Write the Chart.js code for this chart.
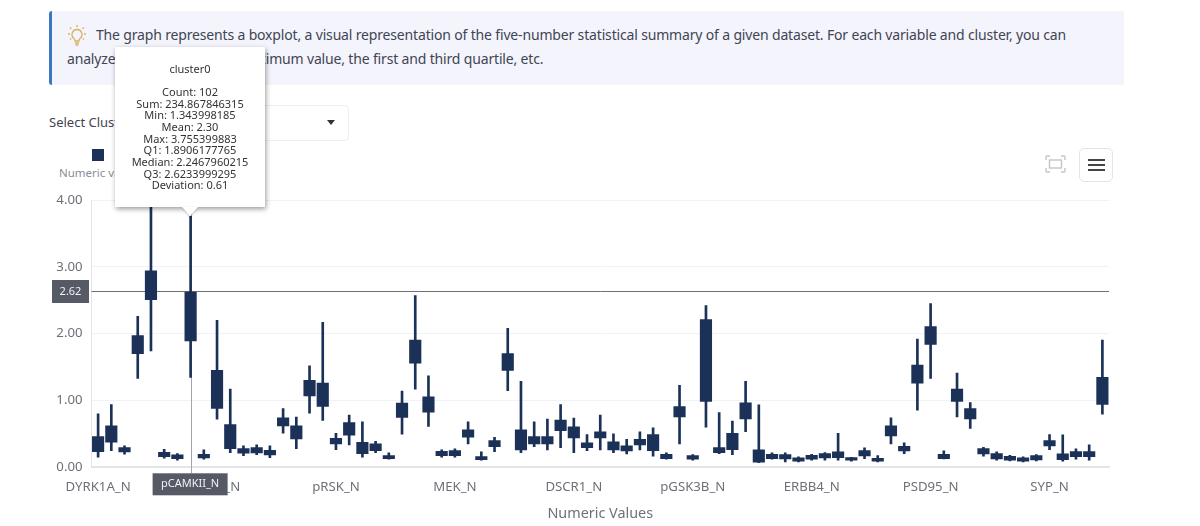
<!DOCTYPE html>
<html>
<head>
<meta charset="utf-8">
<title>Cluster boxplot</title>
<script src="https://cdn.jsdelivr.net/npm/chart.js@4"></script>
<style>
  html, body { margin: 0; padding: 0; background: #fff; width: 1200px; height: 526px; overflow: hidden; font-family: "Noto Sans", sans-serif; color: #3c4250; }
  .abs { position: absolute; }
  #banner { left: 49px; top: 11px; width: 1072px; height: 74px; background: #f4f4fd; border-left: 3px solid #3a78c2; border-radius: 3px; }
  #line1, #line2 { font-size: 14px; letter-spacing: -0.163px; line-height: 24px; white-space: nowrap; color: #3f4552; }
  #line1 { left: 96px; top: 23px; }
  #line2 { left: 67px; top: 47px; }
  #bulb { left: 67px; top: 24px; }
  #selectLabel { left: 49px; top: 113px; font-size: 13px; line-height: 18px; color: #3f4552; white-space: nowrap; }
  #selectBox { left: 122px; top: 105px; width: 225px; height: 34px; border: 1px solid #eeeff3; border-radius: 4px; }
  #selectValue { left: 136px; top: 113px; font-size: 13px; line-height: 18px; }
  #selectArrow { left: 327px; top: 120px; width: 0; height: 0; border-left: 4.5px solid transparent; border-right: 4.5px solid transparent; border-top: 5px solid #333; }
  #legendMark { left: 92px; top: 149px; width: 12px; height: 12px; background: #1b3157; }
  #legendText { left: 59px; top: 165px; font-size: 11.5px; line-height: 16px; color: #8a8d96; white-space: nowrap; }
  #chartBox { left: 49px; top: 190px; width: 1075px; height: 336px; }
  #expandIcon { left: 1045px; top: 155px; }
  #menuBtn { left: 1079px; top: 148px; width: 32px; height: 32px; border: 1px solid #e3e4e8; border-radius: 5px; background: #fff; }
  #menuBtn i { position: absolute; left: 8px; width: 17px; height: 2px; background: #444; }
  #tip { left: 115px; top: 47px; width: 150px; height: 160px; background: #fff; box-shadow: 1px 2px 5px rgba(0,0,0,.4); font-size: 11px; line-height: 11.65px; text-align: center; color: #333; }
  #tipTitle { margin-top: 16px; line-height: 12px; }
  #tipBody { margin-top: 11px; }
  #tipArrow { left: 182px; top: 207px; width: 0; height: 0; border-left: 8px solid transparent; border-right: 8px solid transparent; border-top: 9px solid #fff; filter: drop-shadow(0 1px 1px rgba(0,0,0,.25)); }
</style>
</head>
<body>
<div id="banner" class="abs"></div>
<svg id="bulb" class="abs" width="20" height="24" viewBox="0 0 20 24" fill="none" stroke="#d8b15f" stroke-width="1.3">
  <path d="M10 5.5a5 5 0 0 0-3 9c.8.7 1 1.4 1 2.5h4c0-1.1.2-1.8 1-2.5a5 5 0 0 0-3-9z"/>
  <path d="M8 19h4M8.5 21h3M10 1v2M3 3.5l1.4 1.4M17 3.5l-1.4 1.4M1 10h2M17 10h2M3 15.5l1.2-1M17 15.5l-1.2-1"/>
</svg>
<div id="line1" class="abs">The graph represents a boxplot, a visual representation of the five-number statistical summary of a given dataset. For each variable and cluster, you can</div>
<div id="line2" class="abs">analyze the minimum, the maximum value, the first and third quartile, etc.</div>
<div id="selectLabel" class="abs">Select Cluster</div>
<div id="selectBox" class="abs"></div>
<div id="selectValue" class="abs">cluster0</div>
<div id="selectArrow" class="abs"></div>
<div id="legendMark" class="abs"></div>
<div id="legendText" class="abs">Numeric values</div>
<svg id="expandIcon" class="abs" width="21" height="18" viewBox="0 0 21 18" fill="none" stroke="#c4c5c9" stroke-width="1.4">
  <path d="M1 5V2a1 1 0 0 1 1-1h3M16 1h3a1 1 0 0 1 1 1v3M20 13v3a1 1 0 0 1-1 1h-3M5 17H2a1 1 0 0 1-1-1v-3"/>
  <rect x="4.5" y="5" width="12" height="8"/>
</svg>
<div id="menuBtn" class="abs"><i style="top:10px"></i><i style="top:15px"></i><i style="top:20px"></i></div>
<div id="chartBox" class="abs"><canvas id="boxChart"></canvas></div>
<div id="tip" class="abs"><div id="tipTitle"></div><div id="tipBody"></div></div>
<div id="tipArrow" class="abs"></div>

<script>
// only the labels that can be read in the picture, the rest stay blank
const categories = [
  'DYRK1A_N', '', '', '', '', '', '', 'pCAMKII_N', '', 'pELK_N',
  '', '', '', '', '', '', '', '', 'pRSK_N', '',
  '', '', '', '', '', '', '', 'MEK_N', '', '',
  '', '', '', '', '', '', 'DSCR1_N', '', '', '',
  '', '', '', '', '', 'pGSK3B_N', '', '', '', '',
  '', '', '', '', 'ERBB4_N', '', '', '', '', '',
  '', '', '', 'PSD95_N', '', '', '', '', '', '',
  '', '', 'SYP_N', '', '', '', ''
];
const minValues = [
  .15, .25, .195, 1.33, 1.74, .135, .105, 1.343998185, .12, .72,
  .22, .175, .19, .145, .51, .28, .81, .70, .265, .335,
  .15, .22, .12, .495, 1.17, .61, .15, .15, .35, .105,
  .235, 1.145, .22, .31, .26, .295, .22, .25, .26, .22,
  .20, .26, .165, .12, .35, .105, .60, .205, .19, .535,
  .07, .12, .08, .08, .105, .105, .105, .09, .13, .08,
  .35, .205, .855, 1.33, .125, .755, .58, .165, .105, .095,
  .08, .095, .265, .09, .12, .105, .795
];
const q1Values = [
  .235, .375, .23, 1.70, 2.51, .16, .13, 1.8906177765, .14, .88,
  .28, .21, .215, .185, .62, .425, 1.07, .91, .35, .48,
  .205, .25, .13, .745, 1.56, .825, .175, .175, .45, .115,
  .31, 1.45, .26, .35, .35, .55, .44, .295, .44, .26,
  .245, .335, .25, .13, .755, .12, .985, .22, .265, .725,
  .075, .13, .125, .09, .12, .14, .145, .105, .17, .09,
  .47, .245, 1.26, 1.84, .13, .985, .725, .20, .125, .105,
  .09, .11, .32, .115, .16, .16, .94
];
const q3Values = [
  .46, .62, .295, 1.97, 2.94, .225, .185, 2.6233999295, .195, 1.45,
  .64, .28, .295, .255, .74, .62, 1.30, 1.26, .435, .67,
  .375, .35, .175, .96, 1.905, 1.055, .24, .25, .56, .16,
  .40, 1.70, .56, .46, .46, .705, .605, .365, .53, .38,
  .32, .42, .49, .195, .91, .175, 2.21, .295, .51, .965,
  .26, .195, .19, .14, .18, .205, .23, .145, .25, .135,
  .62, .315, 1.53, 2.105, .195, 1.17, .88, .28, .205, .165,
  .14, .175, .40, .20, .235, .235, 1.345
];
const maxValues = [
  .80, .94, .32, 2.26, 3.95, .27, .205, 3.755399883, .26, 2.20,
  1.17, .32, .335, .32, .88, .75, 1.52, 2.17, .51, .78,
  .68, .39, .215, 1.14, 2.57, 1.37, .26, .275, .68, .23,
  .45, 2.08, 1.285, .68, .72, .94, .735, .49, .78, .50,
  .42, .53, .59, .215, 1.225, .19, 2.42, .82, .69, 1.285,
  .935, .215, .215, .155, .195, .22, .51, .15, .29, .175,
  .74, .365, 1.92, 2.45, .245, 1.41, .97, .30, .23, .18,
  .155, .19, .49, .485, .275, .335, 1.905
];
const yTicks = [0, 1, 2, 3, 4];

// hovered item in the reference
const activeIndex = 7;
const tipCluster = 'cluster0';
const tipCount = 102;
const tipSum = '234.867846315';
const tipMean = '2.30';
const tipMedian = '2.2467960215';
const tipDeviation = '0.61';

const navy = '#1b3157';
const tickFont = { family: '"Noto Sans", sans-serif', size: 13.2 };
const titleFont = { family: '"Noto Sans", sans-serif', size: 14.4 };

document.getElementById('tipTitle').textContent = tipCluster;
document.getElementById('tipBody').innerHTML = [
  `Count: ${tipCount}`,
  `Sum: ${tipSum}`,
  `Min: ${minValues[activeIndex]}`,
  `Mean: ${tipMean}`,
  `Max: ${maxValues[activeIndex]}`,
  `Q1: ${q1Values[activeIndex]}`,
  `Median: ${tipMedian}`,
  `Q3: ${q3Values[activeIndex]}`,
  `Deviation: ${tipDeviation}`
].join('<br>');

// axis pointer of the hovered box, drawn the way the dashboard shows it
const pointerPlugin = {
  id: 'pointer',
  beforeDatasetsDraw(chart) {
    const { ctx, chartArea, scales } = chart;
    const px = Math.round(scales.x.getPixelForValue(activeIndex)) + 0.5;
    const py = Math.round(scales.y.getPixelForValue(q3Values[activeIndex])) - 0.5;
    ctx.save();
    ctx.lineWidth = 1;
    ctx.strokeStyle = '#a3a5aa';
    ctx.beginPath();
    ctx.moveTo(px, chartArea.top);
    ctx.lineTo(px, chartArea.bottom + 6);
    ctx.stroke();
    ctx.strokeStyle = '#6f7175';
    ctx.beginPath();
    ctx.moveTo(chartArea.left, py);
    ctx.lineTo(chartArea.right, py);
    ctx.stroke();
    ctx.restore();
  },
  afterDraw(chart) {
    const { ctx, chartArea, scales } = chart;
    const px = scales.x.getPixelForValue(activeIndex);
    const py = scales.y.getPixelForValue(q3Values[activeIndex]);
    ctx.save();
    ctx.fillStyle = '#555a65';
    ctx.fillRect(3, py - 12, 37, 23);
    ctx.fillRect(px - 38, chartArea.bottom + 6, 75, 22);
    ctx.fillStyle = '#f2f2f4';
    ctx.font = '11px "Noto Sans", sans-serif';
    ctx.textAlign = 'center';
    ctx.textBaseline = 'middle';
    ctx.fillText(q3Values[activeIndex].toFixed(2), 21.5, py);
    ctx.fillText(categories[activeIndex], px - 0.5, chartArea.bottom + 17);
    ctx.restore();
  }
};

new Chart(document.getElementById('boxChart'), {
  type: 'bar',
  data: {
    labels: categories,
    datasets: [
      {
        label: 'Whisker',
        data: categories.map((c, i) => [minValues[i], maxValues[i]]),
        backgroundColor: navy,
        barThickness: 2,
        grouped: false,
      },
      {
        label: 'Box',
        data: categories.map((c, i) => [q1Values[i], q3Values[i]]),
        backgroundColor: navy,
        barThickness: 11.5,
        grouped: false,
      }
    ]
  },
  options: {
    responsive: true,
    maintainAspectRatio: false,
    animation: false,
    layout: { padding: { top: 10, right: 15, left: 0, bottom: 0 } },
    scales: {
      x: {
        afterFit: (scale) => { scale.height = 58.7; },
        grid: { display: false, drawTicks: false },
        border: { color: '#e2e4e9', width: 2 },
        ticks: {
          autoSkip: false,
          maxRotation: 0,
          padding: 12,
          color: '#6e7079',
          font: tickFont,
        },
        title: {
          display: true,
          text: 'Numeric Values',
          color: '#6e7079',
          font: titleFont,
          padding: { top: 4, bottom: 3 },
        }
      },
      y: {
        min: 0,
        max: 4,
        afterFit: (scale) => {
          scale.width = 42.5;
          scale.paddingTop = 0;
          scale.paddingBottom = 0;
        },
        afterBuildTicks: (scale) => { scale.ticks = yTicks.map((value) => ({ value })); },
        grid: { color: '#f1f2f6', drawTicks: false },
        border: { color: '#e2e4e9' },
        ticks: {
          padding: 9,
          color: '#6e7079',
          font: tickFont,
          callback: (value) => value.toFixed(2),
        }
      }
    },
    plugins: {
      legend: { display: false },
      tooltip: { enabled: false }
    }
  },
  plugins: [pointerPlugin]
});
</script>
</body>
</html>
